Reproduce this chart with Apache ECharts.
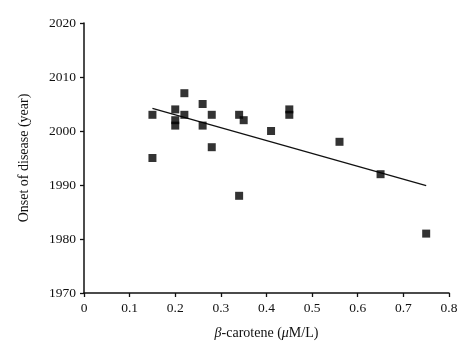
<!DOCTYPE html>
<html><head><meta charset="utf-8">
<script src="https://cdn.jsdelivr.net/npm/echarts@6/dist/echarts.min.js"></script>
<style>html,body{margin:0;padding:0;background:#fff}#c{width:474px;height:358px}</style>
</head><body><div id="c"></div>
<script>
const carotene = [0.15, 0.15, 0.20, 0.20, 0.20, 0.22, 0.22, 0.26, 0.26, 0.28, 0.28, 0.34, 0.34, 0.35, 0.41, 0.45, 0.45, 0.56, 0.65, 0.75];
const onsetYear = [2003, 1995, 2004, 2002, 2001, 2007, 2003, 2005, 2001, 2003, 1997, 2003, 1988, 2002, 2000, 2004, 2003, 1998, 1992, 1981];
const trendX = [0.15, 0.75];
const trendY = [2004.2, 1989.9];
const xTicks = [0, 0.1, 0.2, 0.3, 0.4, 0.5, 0.6, 0.7, 0.8];
const yTicks = [1970, 1980, 1990, 2000, 2010, 2020];

const font = '"Liberation Serif", "DejaVu Serif", serif';
const chart = echarts.init(document.getElementById('c'), null, {renderer: 'canvas'});
const axisCommon = {
  axisLine: {show: true, lineStyle: {color: '#111', width: 1.5}},
  axisTick: {show: true, inside: false, length: 4, lineStyle: {color: '#111', width: 1.3}},
  splitLine: {show: false},
  axisLabel: {color: '#111', fontFamily: font, fontSize: 13.5}
};
chart.setOption({
  animation: false,
  backgroundColor: '#fff',
  grid: {left: 84, right: 25, top: 23, bottom: 65, containLabel: false},
  xAxis: Object.assign({}, axisCommon, {
    type: 'value', min: xTicks[0], max: xTicks[xTicks.length - 1], interval: 0.1,
    axisLabel: Object.assign({}, axisCommon.axisLabel, {margin: 8, formatter: v => String(+v.toFixed(1))}),
    name: '{i|β}-carotene ({i|μ}M/L)', nameLocation: 'middle', nameGap: 33,
    nameTextStyle: {color: '#111', fontFamily: font, fontSize: 14,
      rich: {i: {fontStyle: 'italic', fontFamily: font, fontSize: 14, color: '#111'}}}
  }),
  yAxis: Object.assign({}, axisCommon, {
    type: 'value', min: yTicks[0], max: yTicks[yTicks.length - 1], interval: 10,
    axisLabel: Object.assign({}, axisCommon.axisLabel, {margin: 8, formatter: v => String(v)}),
    name: 'Onset of disease (year)', nameLocation: 'middle', nameGap: 53, nameRotate: 90,
    nameTextStyle: {color: '#111', fontFamily: font, fontSize: 14}
  }),
  series: [
    {type: 'scatter', symbol: 'rect', symbolSize: 8, itemStyle: {color: '#000'},
     data: carotene.map((x, i) => [x, onsetYear[i]]), z: 3},
    {type: 'line', symbol: 'none', lineStyle: {color: '#111', width: 1.3},
     data: trendX.map((x, i) => [x, trendY[i]]), z: 2}
  ]
});
</script></body></html>
